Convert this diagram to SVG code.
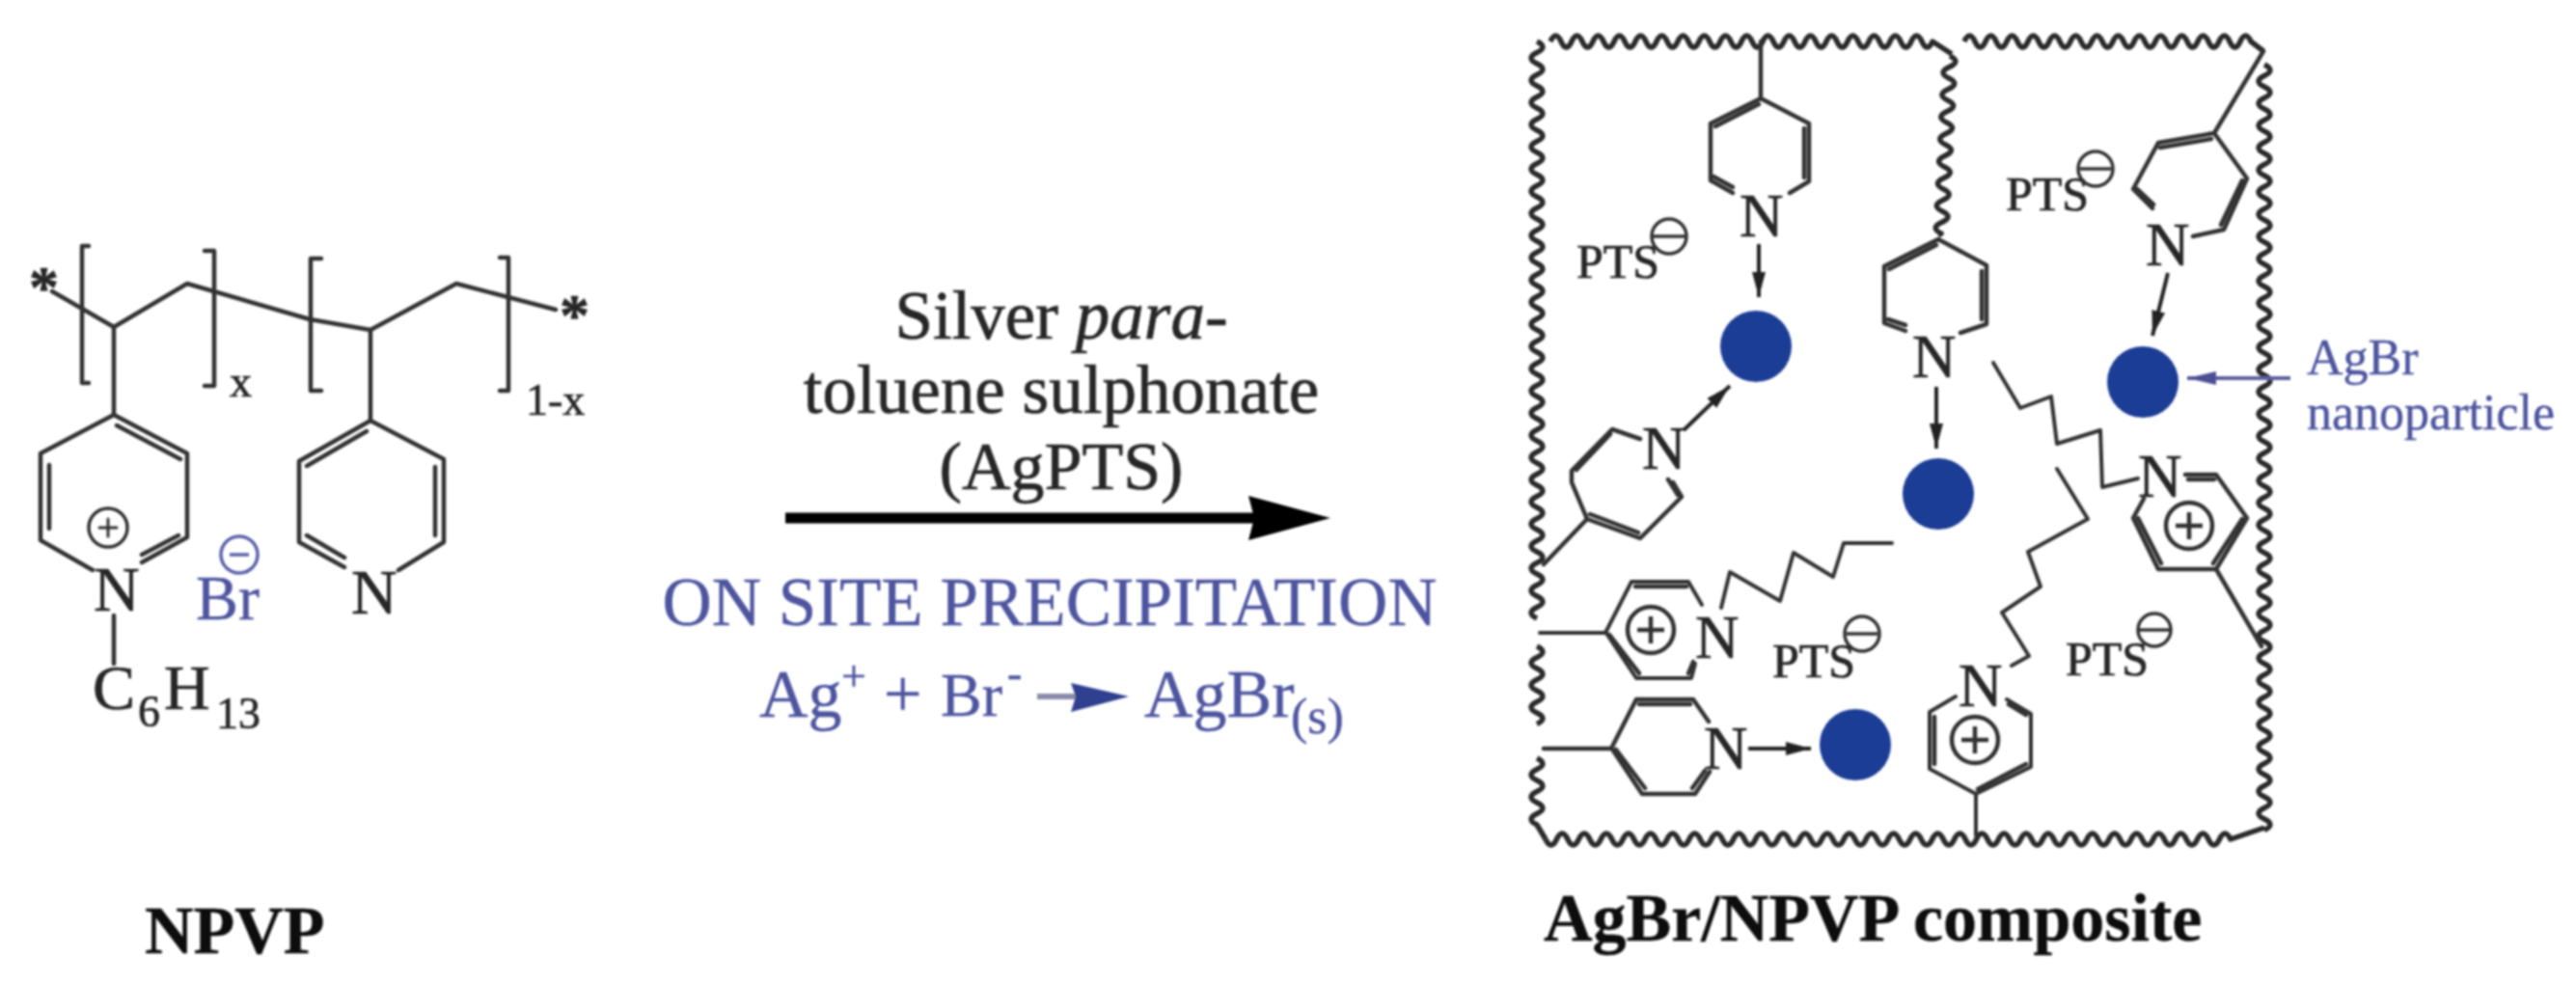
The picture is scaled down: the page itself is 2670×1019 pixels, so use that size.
<svg xmlns="http://www.w3.org/2000/svg" width="2670" height="1019" viewBox="0 0 2670 1019">
<style>
text{font-family:"Liberation Serif","Times New Roman",serif;fill:#262626;stroke:#262626;stroke-width:.7}
.blue{fill:#4d559f;stroke:#4d559f;stroke-width:.4}
.bold{font-weight:700;fill:#111;stroke:#111;stroke-width:.4}
.m{text-anchor:middle}
.f71{font-size:71px}
.f70{font-size:70px}
.f66{font-size:66px}
.f63{font-size:63px}
.f52{font-size:52px}
.f50{font-size:50px}
.f46{font-size:46px}
.star{font-size:62px;font-weight:700}
.b{fill:none;stroke:#333;stroke-width:4.5;stroke-linejoin:round;stroke-linecap:round}
.t{stroke-width:4}
.w{fill:none;stroke:#2c2c2c;stroke-width:5.500;stroke-linejoin:round}
.c{fill:none;stroke:#333;stroke-width:3.500}
.p{fill:none;stroke:#333;stroke-width:4.500}
.cb{fill:none;stroke:#5a62a8;stroke-width:3.500}
.np{fill:#1f3c96}
.a{fill:none;stroke:#222;stroke-width:4;marker-end:url(#h)}
</style>
<defs>
<filter id="soft" x="-2%" y="-2%" width="104%" height="104%"><feGaussianBlur stdDeviation="0.9"/></filter>
<marker id="h" markerUnits="userSpaceOnUse" markerWidth="28" markerHeight="18" refX="26" refY="9" orient="auto"><path d="M0 2L26 9L0 16Z" fill="#222"/></marker>
<marker id="hb" markerUnits="userSpaceOnUse" markerWidth="34" markerHeight="18" refX="30" refY="9" orient="auto"><path d="M0 2L30 9L0 16Z" fill="#4d4f96"/></marker>
</defs>
<rect width="2670" height="1019" fill="#fff"/>
<g filter="url(#soft)">
<g id="npvp">
<text x="30" y="318" class="star">*</text>
<text x="580" y="347" class="star">*</text>
<path class="b" d="M54 302L118 339L194 294L321 331L384 342L473 294L576 321"/>
<path class="b" d="M92 255H85V397H92M212 260H222V400H212M333 268H322V405H333M518 267H527V405H518"/>
<text x="238" y="411" class="f46">x</text>
<text x="545" y="430" class="f46">1-x</text>
<path class="b" d="M118 339V430M384 342V436M118 638V688"/>
<path class="b" d="M118 430L194 470V557L147 583M96 591L42 560V470L118 430"/>
<path class="b" d="M121 441L187 476M51 482V548M147 575L185 555"/>
<circle class="c" cx="112" cy="547" r="20"/>
<path class="b" style="stroke-width:3" d="M103 547H121M112 538V556"/>
<text x="97" y="633" class="f66">N</text>
<text x="203" y="642" class="f66 blue">Br</text>
<circle class="cb" cx="248" cy="575" r="19"/>
<path class="cb" d="M238 575H258"/>
<text x="96" y="735" class="f66">C</text>
<text x="143" y="753" class="f46">6</text>
<text x="170" y="735" class="f66">H</text>
<text x="224" y="755" class="f46">13</text>
<path class="b" d="M384 436L310 478V562L357 588M413 591L460 562V476L384 436"/>
<path class="b" d="M380 447L318 483M451 484V555M318 555L357 578"/>
<text x="364" y="636" class="f66">N</text>
<text x="150" y="988" class="f70 bold">NPVP</text>
</g>
<g id="reagent">
<text x="1100" y="351" class="f71 m">Silver <tspan font-style="italic">para-</tspan></text>
<text x="1100" y="428" class="f71 m">toluene sulphonate</text>
<text x="1100" y="507" class="f70 m">(AgPTS)</text>
<text x="1088" y="648" class="f71 m blue">ON SITE PRECIPITATION</text>
<text x="787" y="743" class="f70 blue">Ag</text>
<text x="872" y="716" class="f46 blue">+</text>
<text x="916" y="743" class="f70 blue">+</text>
<text x="975" y="742" style="font-size:64px" class="blue">Br</text>
<text x="1044" y="713" class="f46 blue">-</text>
<text x="1186" y="743" class="f70 blue">AgBr</text>
<text x="1338" y="760" class="f52 blue">(s)</text>
</g>
<g id="frame">
<path class="w" d="M1607 43q5.500 -12 11 0t11 0 11 0 11 0 11 0 11 0 11 0 11 0 11 0 11 0 11 0 11 0 11 0 11 0 11 0 11 0 11 0 11 0 11 0 11 0 11 0 11 0 11 0 11 0 11 0 11 0 11 0 11 0 11 0 11 0 11 0 11 0 11 0 11 0 11 0 11 0L2023 56"/>
<path class="w" d="M2021 58q12 5.750 -.56 11.500t-.56 11.500 -.56 11.500 -.56 11.500 -.56 11.500 -.56 11.500 -.56 11.500 -.56 11.500 -.56 11.500 -.56 11.500 -.56 11.500 -.56 11.500 -.56 11.500 -.56 11.500 -.56 11.500 -.56 11.500L2009 244"/>
<path class="w" d="M2036 43q5.500 -12 11 0t11 0 11 0 11 0 11 0 11 0 11 0 11 0 11 0 11 0 11 0 11 0 11 0 11 0 11 0 11 0 11 0 11 0 11 0 11 0 11 0 11 0 11 0 11 0 11 0 11 0 11 0L2346 53"/>
<path class="w" d="M1593 43q12 5.750 0 11.500t0 11.500 0 11.500 0 11.500 0 11.500 0 11.500 0 11.500 0 11.500 0 11.500 0 11.500 0 11.500 0 11.500 0 11.500 0 11.500 0 11.500 0 11.500 0 11.500 0 11.500 0 11.500 0 11.500 0 11.500 0 11.500 0 11.500 0 11.500 0 11.500 0 11.500 0 11.500 0 11.500 0 11.500 0 11.500 0 11.500 0 11.500 0 11.500 0 11.500 0 11.500 0 11.500 0 11.500 0 11.500 0 11.500 0 11.500 0 11.500 0 11.500 0 11.500 0 11.500 0 11.500 0 11.500 0 11.500 0 11.500 0 11.500 0 11.500 0 11.500 0 11.500"/>
<path class="w" d="M1593 670q12 5.750 0 11.500t0 11.500 0 11.500 0 11.500 0 11.500 0 11.500 0 11.500"/>
<path class="w" d="M1593 786q12 5.750 0 11.500t0 11.500 0 11.500 0 11.500 0 11.500 0 11.500L1602 870"/>
<path class="w" d="M1602 870q5.720 12 11.450 0t11.450 0 11.450 0 11.450 0 11.450 0 11.450 0 11.450 0 11.450 0 11.450 0 11.450 0 11.450 0 11.450 0 11.450 0 11.450 0 11.450 0 11.450 0 11.450 0 11.450 0 11.450 0 11.450 0 11.450 0 11.450 0 11.450 0 11.450 0 11.450 0 11.450 0 11.450 0 11.450 0 11.450 0 11.450 0 11.450 0 11.450 0 11.450 0 11.450 0 11.450 0 11.450 0 11.450 0 11.450 0 11.450 0 11.450 0 11.450 0 11.450 0 11.450 0 11.450 0 11.450 0 11.450 0 11.450 0 11.450 0 11.450 0 11.450 0 11.450 0 11.450 0 11.450 0 11.450 0 11.450 0 11.450 0 11.450 0 11.450 0 11.450 0 11.450 0 11.450 0 11.450 0L2347 858"/>
<path class="w" d="M2347 67q12 5.750 0 11.500t0 11.500 0 11.500 0 11.500 0 11.500 0 11.500 0 11.500 0 11.500 0 11.500 0 11.500 0 11.500 0 11.500 0 11.500 0 11.500 0 11.500 0 11.500 0 11.500 0 11.500 0 11.500 0 11.500 0 11.500 0 11.500 0 11.500 0 11.500 0 11.500 0 11.500 0 11.500 0 11.500 0 11.500 0 11.500 0 11.500 0 11.500 0 11.500 0 11.500 0 11.500 0 11.500 0 11.500 0 11.500 0 11.500 0 11.500 0 11.500 0 11.500 0 11.500 0 11.500 0 11.500 0 11.500 0 11.500 0 11.500 0 11.500 0 11.500 0 11.500 0 11.500 0 11.500 0 11.500 0 11.500 0 11.500 0 11.500 0 11.500 0 11.500 0 11.500 0 11.500 0 11.500 0 11.500 0 11.500 0 11.500 0 11.500 0 11.500 0 11.500 0 11.500"/>
</g>
<g id="ring-a">
<path class="b" d="M1825 43V102M1825 102L1773 128V187L1796 200M1855 200L1875 188V128L1825 102"/>
<path class="b" d="M1823 108L1778 131M1870 133V184M1776 183L1796 194"/>
<text x="1803" y="245" class="f63">N</text>
</g>
<g id="ring-b">
<path class="b" d="M2009 248L1953 276V335L1975 343M2032 345L2059 336V275L2009 248"/>
<path class="b" d="M2007 254L1958 279M2054 281V331M1957 331L1975 337"/>
<text x="1982" y="391" class="f63">N</text>
</g>
<g id="ring-c">
<path class="b" d="M1700 455L1671 445L1629 488L1629 500L1645 538L1700 558L1743 515L1734 500M1645 538L1600 585"/>
<path class="b" d="M1669 450L1634 487M1648 533L1698 552M1739 513L1729 497"/>
<text x="1702" y="486" class="f63">N</text>
</g>
<g id="ring-d">
<path class="b t" d="M1596 656H1664L1691 603H1750L1764 627M1664 655L1696 703H1753L1757 688"/>
<path class="b" d="M1695 608H1748M1668 658L1699 698M1750 698L1755 686"/>
<circle class="p" cx="1711" cy="653" r="24"/>
<path class="p" d="M1697 653H1725M1711 639V667"/>
<text x="1757" y="682" class="f63">N</text>
<path class="b t" d="M1784 630L1793 593L1845 623L1859 573L1900 598L1911 563L1961 563"/>
</g>
<g id="ring-e">
<path class="b" d="M1600 776H1670L1696 725H1755L1771 748M1670 775L1702 823H1757L1772 800"/>
<path class="b" d="M1699 730H1752M1675 777L1705 817M1754 817L1767 799"/>
<text x="1766" y="797" class="f63">N</text>
</g>
<g id="ring-f">
<path class="b t" d="M2048 823V866M2048 823L2000 797V738L2027 722M2080 725L2105 740V795L2048 823"/>
<path class="b" d="M2005 743V792M2050 818L2100 792M2082 730L2100 741"/>
<circle class="p" cx="2047" cy="767" r="24"/>
<path class="p" d="M2033 767H2061M2047 753V781"/>
<text x="2030" y="732" class="f63">N</text>
<path class="b t" d="M2085 690L2103 680L2075 635L2115 608L2102 572L2164 538L2132 486"/>
</g>
<g id="ring-g">
<path class="b" d="M2265 492H2297L2329 537L2297 590H2237L2211 537L2222 517M2297 590L2344 670"/>
<path class="b" d="M2268 497H2295M2324 538L2294 584M2216 537L2240 584"/>
<circle class="p" cx="2269" cy="545" r="24"/>
<path class="p" d="M2255 545H2283M2269 531V559"/>
<text x="2216" y="515" class="f63">N</text>
<path class="b t" d="M2066 376L2094 423L2126 411L2132 460L2177 446L2179 505L2216 496"/>
</g>
<g id="ring-h">
<path class="b" d="M2346 53L2295 138L2237 148L2211 196L2231 216M2295 138L2329 185L2305 238L2273 245"/>
<path class="b" d="M2292 144L2239 153M2215 196L2232 212M2324 187L2302 233"/>
<text x="2224" y="275" class="f63">N</text>
</g>
<g id="np-1"><circle class="np" cx="1820" cy="359" r="37"/></g>
<g id="np-2"><circle class="np" cx="2009" cy="512" r="37"/></g>
<g id="np-3"><circle class="np" cx="1923" cy="772" r="37"/></g>
<g id="np-4"><circle class="np" cx="2221" cy="396" r="37"/></g>
<g id="pts-1"><text x="1634" y="288" class="f50">PTS</text><circle class="c" cx="1730" cy="245" r="18"/><path class="c" d="M1713 245H1747"/></g>
<g id="pts-2"><text x="1837" y="702" class="f50">PTS</text><circle class="c" cx="1930" cy="657" r="18"/><path class="c" d="M1914 657H1946"/></g>
<g id="pts-3"><text x="2141" y="700" class="f50">PTS</text><circle class="c" cx="2233" cy="653" r="17"/><path class="c" d="M2217 653H2249"/></g>
<g id="pts-4"><text x="2079" y="218" class="f50">PTS</text><circle class="c" cx="2172" cy="175" r="18"/><path class="c" d="M2156 175H2188"/></g>
<g id="label-agbr">
<text x="2391" y="388" class="f52 blue">AgBr</text>
<text x="2391" y="445" class="f52 blue">nanoparticle</text>
</g>
<text id="title" x="1600" y="975" class="f70 bold">AgBr/NPVP composite</text>
<g id="connectors">
<path d="M814 537H1340" fill="none" stroke="#000" stroke-width="11"/>
<path d="M1294 514L1379 537L1294 560L1300 537Z" fill="#000"/>
<path d="M1075 722H1116" fill="none" stroke="#8a8cab" stroke-width="6"/>
<path d="M1110 708L1170 722L1110 738L1115 722Z" fill="#2e3f8f"/>
<path class="a" d="M1823 253V308"/>
<path class="a" d="M2007 401V465"/>
<path class="a" d="M1745 446L1793 400"/>
<path class="a" d="M1812 776H1877"/>
<path class="a" d="M2247 283L2231 348"/>
<path d="M2374 392H2267" fill="none" stroke="#5a5f9e" stroke-width="4" marker-end="url(#hb)"/>
</g>
</g>
</svg>
